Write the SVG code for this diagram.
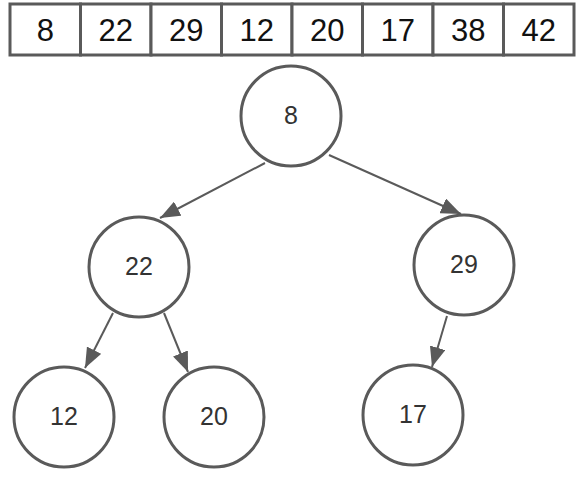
<svg xmlns="http://www.w3.org/2000/svg" width="582" height="482" viewBox="0 0 582 482">
<style>
.cell{fill:#fff;stroke:#5a5a5a;stroke-width:3}
.node circle{fill:#fff;stroke:#5a5a5a;stroke-width:3}
.at{font-family:"Liberation Sans",Arial,sans-serif;font-size:31px;fill:#111;text-anchor:middle}
.nt{font-family:"Liberation Sans",Arial,sans-serif;font-size:25px;fill:#333;text-anchor:middle}
.edge{stroke:#5a5a5a;stroke-width:2;fill:none;marker-end:url(#ah)}
</style>
<defs>
<marker id="ah" markerUnits="userSpaceOnUse" markerWidth="22" markerHeight="16" refX="20" refY="8" orient="auto">
<path d="M0,0 L20,8 L0,16 Z" fill="#5a5a5a"/>
</marker>
</defs>
<rect x="0" y="0" width="582" height="482" fill="#fff"/>
<g id="array">
<rect class="cell" x="10" y="4" width="70.5" height="51"/>
<rect class="cell" x="80.5" y="4" width="70.5" height="51"/>
<rect class="cell" x="151" y="4" width="70.5" height="51"/>
<rect class="cell" x="221.5" y="4" width="70.5" height="51"/>
<rect class="cell" x="292" y="4" width="70.5" height="51"/>
<rect class="cell" x="362.5" y="4" width="70.5" height="51"/>
<rect class="cell" x="433" y="4" width="70.5" height="51"/>
<rect class="cell" x="503.5" y="4" width="70.5" height="51"/>
<text class="at" x="45.25" y="41">8</text>
<text class="at" x="115.75" y="41">22</text>
<text class="at" x="186.25" y="41">29</text>
<text class="at" x="256.75" y="41">12</text>
<text class="at" x="327.25" y="41">20</text>
<text class="at" x="397.75" y="41">17</text>
<text class="at" x="468.25" y="41">38</text>
<text class="at" x="538.75" y="41">42</text>
</g>
<g id="connectors">
<line class="edge" x1="265" y1="163" x2="160" y2="218"/>
<line class="edge" x1="329" y1="155" x2="461" y2="214"/>
<line class="edge" x1="113" y1="313" x2="85" y2="368"/>
<line class="edge" x1="164" y1="313" x2="188" y2="372"/>
<line class="edge" x1="447" y1="316" x2="432" y2="367"/>
</g>
<g id="n8" class="node"><circle cx="291" cy="116" r="50"/><text class="nt" x="291" y="124">8</text></g>
<g id="n22" class="node"><circle cx="139" cy="267" r="50"/><text class="nt" x="139" y="275">22</text></g>
<g id="n29" class="node"><circle cx="464" cy="265" r="50"/><text class="nt" x="464" y="273">29</text></g>
<g id="n12" class="node"><circle cx="64" cy="417" r="50"/><text class="nt" x="64" y="425">12</text></g>
<g id="n20" class="node"><circle cx="214" cy="417" r="50"/><text class="nt" x="214" y="425">20</text></g>
<g id="n17" class="node"><circle cx="413" cy="415" r="50"/><text class="nt" x="413" y="423">17</text></g>
</svg>
